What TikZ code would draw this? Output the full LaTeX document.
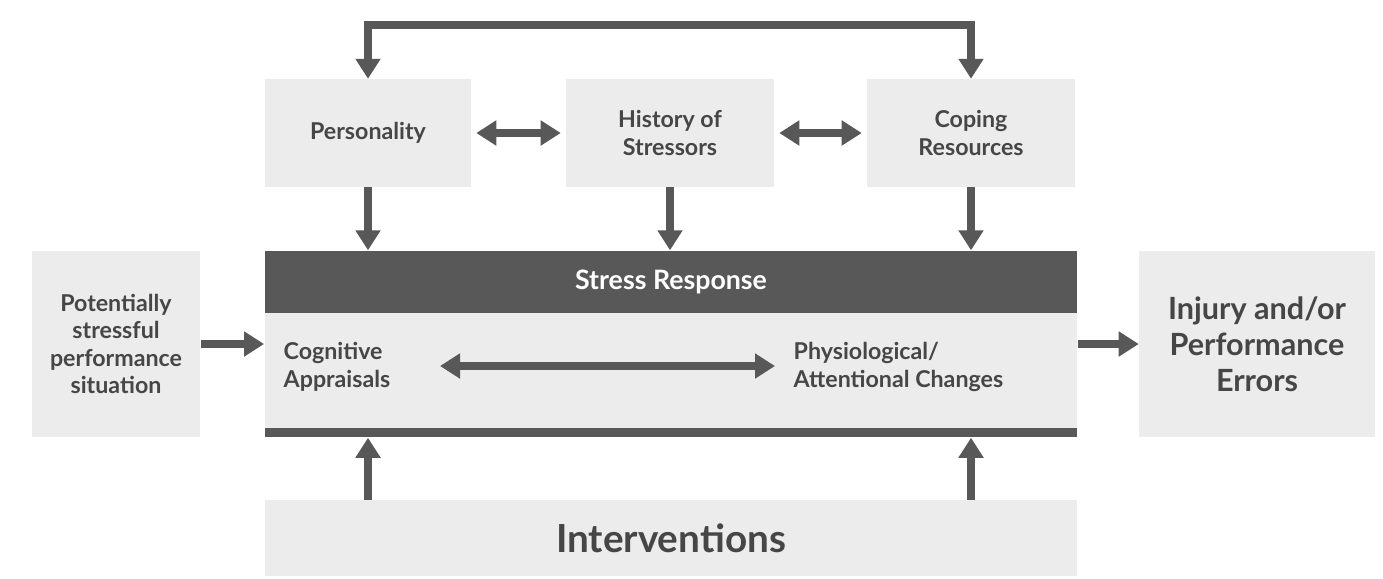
\documentclass[tikz,border=0pt]{standalone}
\usepackage{fontspec}
\setmainfont{Lato}
\usetikzlibrary{arrows.meta, positioning}
\definecolor{boxgray}{HTML}{ECECEC}
\definecolor{darkgray}{HTML}{585858}
\tikzset{
    box/.style={fill=boxgray, font=\bfseries\fontsize{6.6}{7.8}\selectfont, text=darkgray!80!black, align=center, inner sep=0},
    arr/.style={draw=darkgray, line width=2.3pt, -{Triangle[length=0.2cm, width=0.24cm]}},
    darr/.style={arr, {Triangle[length=0.2cm, width=0.24cm]}-{Triangle[length=0.2cm, width=0.24cm]}}
}
\begin{document}
\begin{tikzpicture}[x=0.01cm, y=-0.01cm]
    \useasboundingbox (0,0) rectangle (1383,578);
    % factor boxes
    \node[box, minimum width=2.05cm, minimum height=1.07cm] (pers) at (368,133) {Personality};
    \node[box, minimum width=2.07cm, minimum height=1.07cm] (hist) at (670,133) {History of\\Stressors};
    \node[box, minimum width=2.07cm, minimum height=1.07cm] (cope) at (971,133) {Coping\\Resources};
    % stress response
    \node[fill=darkgray, minimum width=8.12cm, minimum height=0.62cm, text=white, font=\bfseries\fontsize{7.6}{9}\selectfont, inner sep=0] (stress) at (671,282) {Stress Response};
    \node[box, minimum width=8.12cm, minimum height=1.24cm] (body) at (671,375) {};
    \fill[darkgray] (265,428) rectangle (1077,437);
    \node[box, anchor=west, align=left] (cogn) at (283,367) {Cognitive\\Appraisals};
    \node[box, anchor=west, align=left] (phys) at (793,367) {Physiological/\\Attentional Changes};
    % sides
    \node[box, minimum width=1.68cm, minimum height=1.86cm] (sit) at (116,344) {Potentially\\stressful\\performance\\situation};
    \node[box, minimum width=2.35cm, minimum height=1.86cm, font=\bfseries\fontsize{8.7}{10.2}\selectfont] (injury) at (1257,344) {Injury and/or\\Performance\\Errors};
    \node[box, minimum width=8.12cm, minimum height=0.75cm, font=\bfseries\fontsize{11}{13}\selectfont] (interv) at (671,538) {Interventions};
    % connectors
    \coordinate (top) at (670,25);
    \draw[darr] (pers.north) -- (pers.north |- top) -- (cope.north |- top) -- (cope.north);
    \draw[darr] ([xshift=0.05cm]pers.east) -- ([xshift=-0.05cm]hist.west);
    \draw[darr] ([xshift=0.05cm]hist.east) -- ([xshift=-0.05cm]cope.west);
    \foreach \n in {pers, hist, cope}
        \draw[arr] (\n.south) -- (\n.south |- stress.north);
    \draw[arr] (sit.east) -- (sit.east -| body.west);
    \draw[arr] (injury.west -| body.east) -- (injury.west);
    \draw[darr] (440,366) -- (775,366);
    \draw[arr] (pers.south |- interv.north) -- (pers.south |- body.south);
    \draw[arr] (cope.south |- interv.north) -- (cope.south |- body.south);
\end{tikzpicture}
\end{document}
